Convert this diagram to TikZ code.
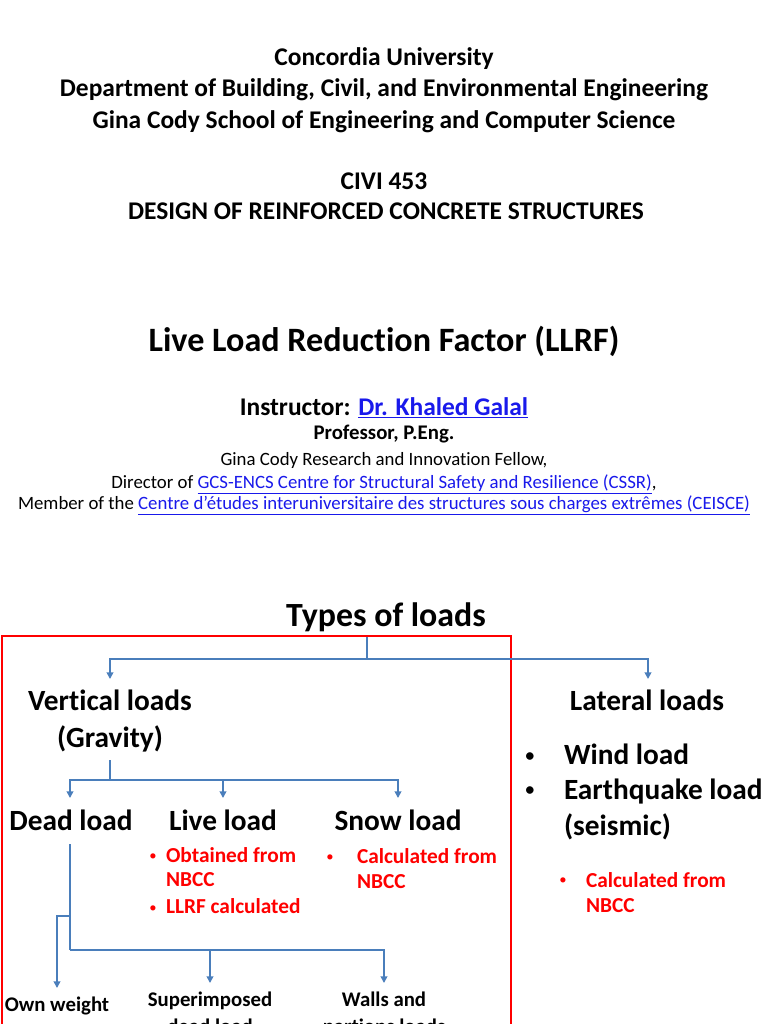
\documentclass[tikz,border=0pt]{standalone}
\usepackage{fontspec}
\setmainfont{Carlito}[Ligatures={TeX,NoCommon}]
\usetikzlibrary{arrows.meta}
\definecolor{connblue}{RGB}{74,126,187}
\definecolor{linkblue}{RGB}{25,25,235}
\definecolor{redtxt}{RGB}{255,0,0}
\tikzset{
  txt/.style={anchor=base, inner sep=0pt, outer sep=0pt},
  txtl/.style={anchor=base west, inner sep=0pt, outer sep=0pt},
  hdr/.style={txt, font=\fontsize{19.1}{23}\selectfont\bfseries},
  big/.style={txt, font=\fontsize{25.6}{30}\selectfont\bfseries},
  small/.style={txt, font=\fontsize{14.1}{17}\selectfont},
  cat/.style={txt, font=\fontsize{22}{27}\selectfont\bfseries},
  catb/.style={font=\fontsize{22}{27}\selectfont\bfseries},
  redb/.style={text=redtxt, font=\fontsize{16}{19}\selectfont\bfseries},
  bulb/.style={txt, font=\fontsize{16}{19}\selectfont},
  bulr/.style={txt, text=redtxt, font=\fontsize{11}{13}\selectfont},
  leaf/.style={txt, font=\fontsize{15.6}{19}\selectfont\bfseries},
  conn/.style={draw=connblue, line width=1.4pt},
  arr/.style={conn, -{Triangle[length=5pt,width=5pt]}},
}
\newcommand{\lnk}[1]{\textcolor{linkblue}{\underline{#1}}}
\begin{document}
\begin{tikzpicture}[x=0.75pt, y=-0.75pt]
\fill[white] (0,0) rectangle (768,1024);
\clip (0,0) rectangle (768,1024);

% header
\node[hdr] (h1) at (384,66) {Concordia University};
\node[hdr] (h2) at (384,96) {Department of Building, Civil, and Environmental Engineering};
\node[hdr] (h3) at (384,128) {Gina Cody School of Engineering and Computer Science};
\node[hdr] (h4) at (384,189) {CIVI 453};
\node[hdr] (h5) at (386,219) {DESIGN OF REINFORCED CONCRETE STRUCTURES};
\node[big] (title) at (384,351) {Live Load Reduction Factor (LLRF)};

\node[hdr] (instr) at (384,415) {Instructor: \lnk{Dr. Khaled Galal}};
\node[txt, font=\fontsize{15.6}{19}\selectfont\bfseries] (prof) at (384,439) {Professor, P.Eng.};
\node[small] (fellow) at (384,465) {Gina Cody Research and Innovation Fellow,};
\node[small] (dir) at (384,488) {Director of \lnk{GCS-ENCS Centre for Structural Safety and Resilience (CSSR)},};
\node[small] (mem) at (384,509) {Member of the \lnk{Centre d'études interuniversitaire des structures sous charges extrêmes (CEISCE)}};

% red box
\draw[redtxt, line width=1.6pt] (2,636) rectangle (511,1060);

% diagram
\node[txt, font=\fontsize{25.4}{31}\selectfont\bfseries] (types) at (386,626) {Types of loads};
\node[cat] (vert) at (110,710) {Vertical loads};
\node[cat] (grav) at (110,747) {(Gravity)};
\node[cat] (lat) at (647,710) {Lateral loads};

\node[bulb] (b1) at (530,762) {•};
\node[txtl, catb] (wind) at (564,764) {Wind load};
\node[bulb] (b2) at (530,796) {•};
\node[txtl, catb] (eq) at (564,799) {Earthquake load};
\node[txtl, catb] (seis) at (564,835) {(seismic)};
\node[bulr] (rb1) at (563,884) {•};
\node[txtl, redb] (lr1) at (586,887) {Calculated from};
\node[txtl, redb] (lr2) at (586,912) {NBCC};

\node[txt, catb] (dead) at (71,830) {Dead load};
\node[txt, catb] (live) at (223,830) {Live load};
\node[txt, catb] (snow) at (398,830) {Snow load};

\node[bulr] (lb1) at (153,860) {•};
\node[txtl, redb] (ll1) at (166,862) {Obtained from};
\node[txtl, redb] (ll2) at (166,886) {NBCC};
\node[bulr] (lb2) at (153,912) {•};
\node[txtl, redb] (ll3) at (166,913) {LLRF calculated};

\node[bulr] (sb1) at (330,861) {•};
\node[txtl, redb] (sl1) at (357,863) {Calculated from};
\node[txtl, redb] (sl2) at (357,888) {NBCC};

\node[leaf] (own) at (57,1011) {Own weight};
\node[leaf] (sup) at (210,1006) {Superimposed};
\node[leaf] (sup2) at (210,1033) {dead load};
\node[leaf] (wall) at (384,1006) {Walls and};
\node[leaf] (wall2) at (384,1033) {partions loads};

% connectors
\coordinate (t0) at (367,637);
\coordinate (t1) at (367,659);
\coordinate (av) at (110,679);
\coordinate (al) at (648,679);
\draw[conn] (t0) -- (t1);
\draw[arr] (t1) -| (av);
\draw[arr] (t1) -| (al);

\coordinate (g0) at (110,760);
\coordinate (g1) at (110,780);
\coordinate (ad) at (70,798);
\coordinate (alv) at (223,798);
\coordinate (as) at (398,798);
\draw[conn] (g0) -- (g1);
\draw[arr] (g1) -| (ad);
\draw[arr] (g1) -| (alv);
\draw[arr] (g1) -| (as);

\coordinate (d0) at (70,844);
\coordinate (d1) at (70,916);
\coordinate (d2) at (70,950);
\coordinate (ao) at (57,988);
\coordinate (asu) at (210,983);
\coordinate (aw) at (384,983);
\draw[conn] (d0) -- (d2);
\draw[arr] (d1) -| (ao);
\draw[arr] (d2) -| (asu);
\draw[arr] (d2) -| (aw);
\end{tikzpicture}
\end{document}
